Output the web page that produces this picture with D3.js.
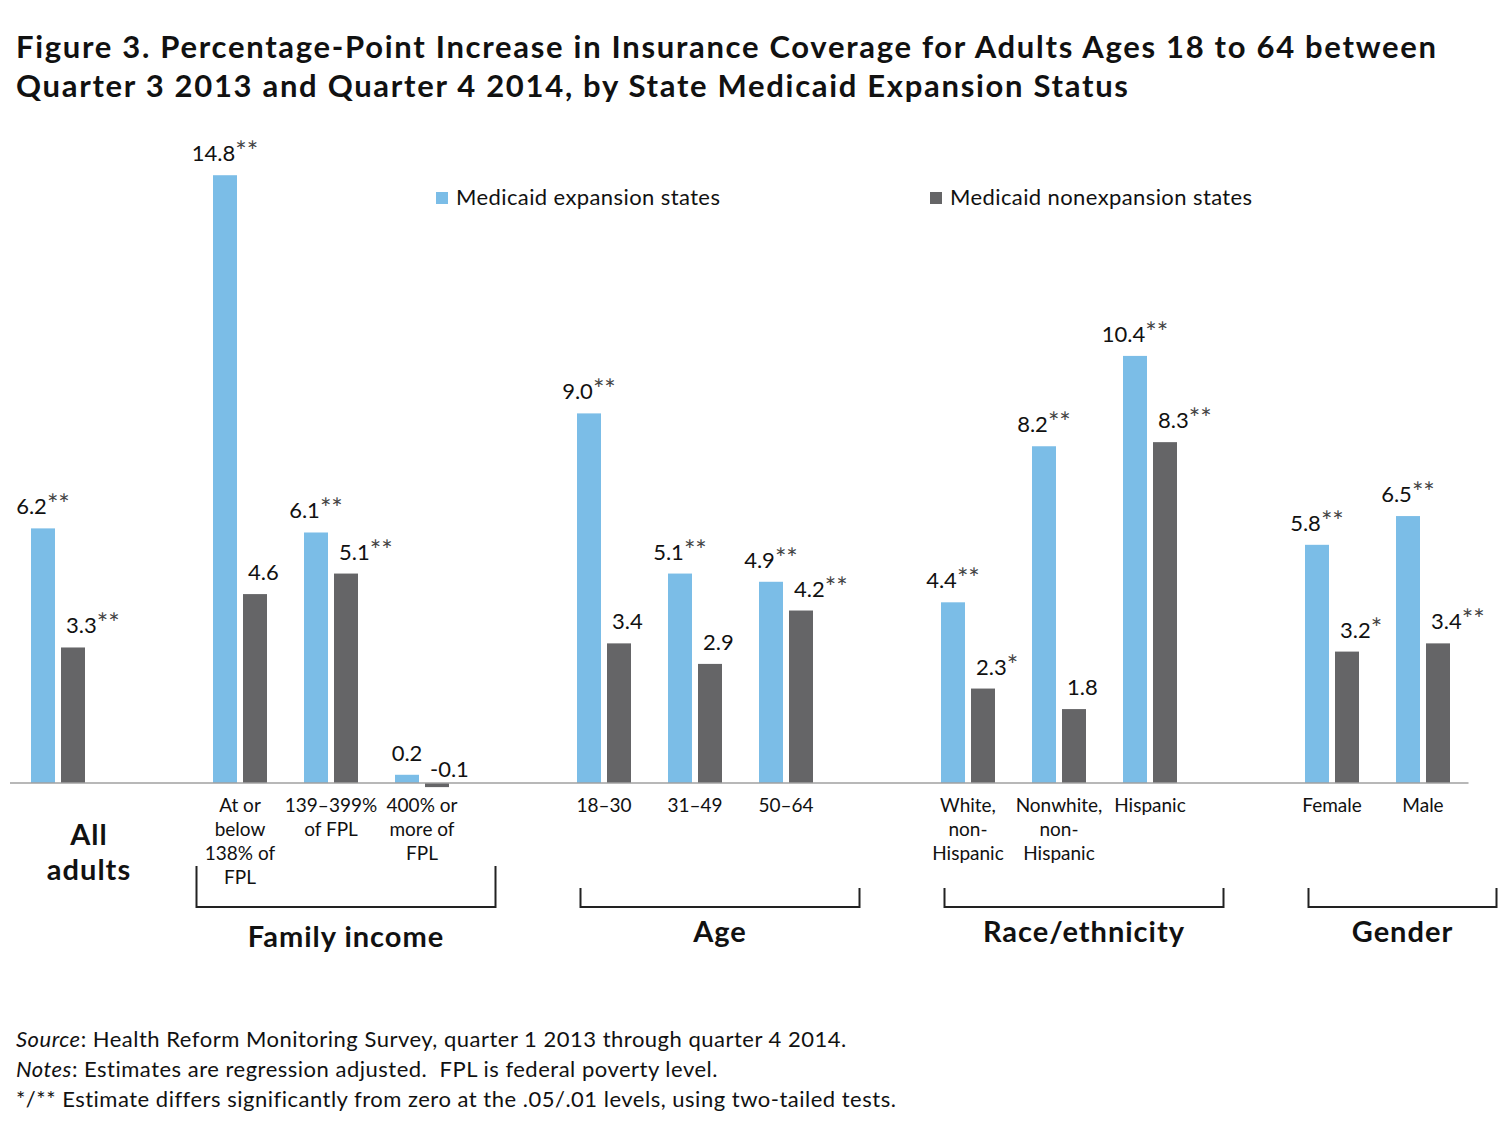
<!DOCTYPE html>
<html>
<head>
<meta charset="utf-8">
<script src="https://cdnjs.cloudflare.com/ajax/libs/d3/7.8.5/d3.min.js"></script>
<style>
  body { margin: 0; background: #fff; }
  text { font-family: Lato, "Open Sans", sans-serif; fill: #111; }
</style>
</head>
<body>
<svg id="chart" width="1500" height="1126"></svg>
<script>

// chart data
var categories = ["All adults", "At or below 138% of FPL", "139–399% of FPL", "400% or more of FPL",
                  "18–30", "31–49", "50–64",
                  "White, non-Hispanic", "Nonwhite, non-Hispanic", "Hispanic",
                  "Female", "Male"];
var categoryLines = [["All", "adults"], ["At or", "below", "138% of", "FPL"], ["139–399%", "of FPL"], ["400% or", "more of", "FPL"],
                     ["18–30"], ["31–49"], ["50–64"],
                     ["White,", "non-", "Hispanic"], ["Nonwhite,", "non-", "Hispanic"], ["Hispanic"],
                     ["Female"], ["Male"]];
var categoryGroup = ["All adults", "Family income", "Family income", "Family income",
                     "Age", "Age", "Age",
                     "Race/ethnicity", "Race/ethnicity", "Race/ethnicity",
                     "Gender", "Gender"];
var groups = ["All adults", "Family income", "Age", "Race/ethnicity", "Gender"];
var seriesNames = ["Medicaid expansion states", "Medicaid nonexpansion states"];
var expansion    = [6.2, 14.8, 6.1, 0.2, 9.0, 5.1, 4.9, 4.4, 8.2, 10.4, 5.8, 6.5];
var nonexpansion = [3.3, 4.6, 5.1, -0.1, 3.4, 2.9, 4.2, 2.3, 1.8, 8.3, 3.2, 3.4];
var expansionSig    = ["**", "**", "**", "", "**", "**", "**", "**", "**", "**", "**", "**"];
var nonexpansionSig = ["**", "", "**", "", "", "", "**", "*", "", "**", "*", "**"];
var titleLines = ["Figure 3. Percentage-Point Increase in Insurance Coverage for Adults Ages 18 to 64 between",
                  "Quarter 3 2013 and Quarter 4 2014, by State Medicaid Expansion Status"];

var colors = ["#7bbde7", "#656567"];

var svg = d3.select("#chart");

// title
svg.append("g").selectAll("text").data(titleLines).enter().append("text")
  .attr("x", 16)
  .attr("y", function(d, i) { return 58 + i * 39; })
  .style("font-size", "31px")
  .style("font-weight", "bold")
  .style("letter-spacing", "1.7px")
  .text(function(d) { return d; });

// x slots: one per category, with an empty slot between groups
var slots = [];
categories.forEach(function(c, i) {
  if (i > 0 && categoryGroup[i] !== categoryGroup[i - 1]) slots.push("gap" + i);
  slots.push(c);
});

var x = d3.scaleBand().domain(slots).range([12.5, 1468.5]).padding(0);
var xs = d3.scaleBand().domain(seriesNames)
  .range([x.bandwidth() / 2 - 27, x.bandwidth() / 2 + 27])
  .paddingInner(0.2).paddingOuter(0);
var y = d3.scaleLinear().domain([0, 15]).range([783, 167]);

var rows = categories.map(function(c, i) {
  return {cat: c, vals: [
    {s: seriesNames[0], v: expansion[i], sig: expansionSig[i]},
    {s: seriesNames[1], v: nonexpansion[i], sig: nonexpansionSig[i]}
  ]};
});

var cat = svg.append("g").selectAll(".cat").data(rows).enter().append("g")
  .attr("class", "cat")
  .attr("transform", function(d) { return "translate(" + x(d.cat) + ",0)"; });

cat.selectAll("rect").data(function(d) { return d.vals; }).enter().append("rect")
  .attr("x", function(d) { return xs(d.s); })
  .attr("y", function(d) { return y(Math.max(0, d.v)); })
  .attr("width", xs.bandwidth())
  .attr("height", function(d) { return Math.abs(y(d.v) - y(0)); })
  .attr("fill", function(d, i) { return colors[i]; });

// value labels: blue centred, gray left aligned next to the bar
var lab = cat.selectAll(".val").data(function(d) { return d.vals; }).enter().append("text")
  .attr("class", "val")
  .attr("x", function(d, i) { return i === 0 ? xs(d.s) + xs.bandwidth() / 2 : xs(d.s) + 5; })
  .attr("y", function(d) { return y(Math.max(0, d.v)) - (d.v < 0 ? 6 : 14); })
  .style("text-anchor", function(d, i) { return i === 0 ? "middle" : "start"; })
  .style("font-size", "22px");
lab.append("tspan").text(function(d) { return d.v.toFixed(1); });
lab.append("tspan").style("font-size", "27px").style("fill", "#444")
  .text(function(d) { return d.sig; });

// axis line
svg.append("line")
  .attr("x1", 10).attr("x2", x.range()[1])
  .attr("y1", y(0)).attr("y2", y(0))
  .attr("stroke", "#a0a0a0").attr("stroke-width", 1.5);

// category labels
var catLab = svg.append("g").selectAll("text").data(categories.slice(1)).enter().append("text")
  .attr("x", function(d) { return x(d) + x.bandwidth() / 2; })
  .attr("y", 812)
  .style("text-anchor", "middle")
  .style("font-size", "19px");
catLab.selectAll("tspan").data(function(d) { return categoryLines[categories.indexOf(d)]; }).enter().append("tspan")
  .attr("x", function() { var p = this.parentNode; return p.getAttribute("x"); })
  .attr("dy", function(d, i) { return i === 0 ? 0 : 24; })
  .text(function(d) { return d; });

// "All adults" label
svg.append("g").selectAll("text").data(categoryLines[0]).enter().append("text")
  .attr("x", x(categories[0]) + x.bandwidth() / 2 + 31)
  .attr("y", function(d, i) { return 845 + i * 35; })
  .style("text-anchor", "middle")
  .style("font-size", "29px")
  .style("font-weight", "bold")
  .style("letter-spacing", "1px")
  .text(function(d) { return d; });

// group brackets and titles
groups.slice(1).forEach(function(g) {
  var members = categories.filter(function(c, i) { return categoryGroup[i] === g; });
  var maxLines = d3.max(members, function(c) { return categoryLines[categories.indexOf(c)].length; });
  var x0 = x(members[0]) + 22,
      x1 = x(members[members.length - 1]) + x.bandwidth() + 28,
      top = maxLines > 3 ? 866 : 888,
      bot = 907;
  if (maxLines > 3) x0 -= 20;   // the income bracket sits a bit further left
  svg.append("path")
    .attr("d", "M" + x0 + "," + top + "V" + bot + "H" + x1 + "V" + top)
    .attr("fill", "none").attr("stroke", "#222").attr("stroke-width", 2);
  svg.append("text")
    .attr("x", (x0 + x1) / 2)
    .attr("y", maxLines > 3 ? 947 : 942)
    .style("text-anchor", "middle")
    .style("font-size", "29px")
    .style("font-weight", "bold")
    .style("letter-spacing", "1px")
    .text(g);
});

// legend
var leg = svg.append("g").selectAll("g").data(seriesNames).enter().append("g")
  .attr("transform", function(d, i) { return "translate(" + (436 + i * 494) + ",192)"; });
leg.append("rect").attr("width", 12).attr("height", 12)
  .attr("fill", function(d, i) { return colors[i]; });
leg.append("text").attr("x", 20).attr("y", 13)
  .style("font-size", "22px")
  .style("letter-spacing", "0.4px")
  .text(function(d) { return d; });

// notes
var notes = svg.append("g").style("font-size", "22px").style("letter-spacing", "0.5px");
var n1 = notes.append("text").attr("x", 16).attr("y", 1047);
n1.append("tspan").style("font-style", "italic").text("Source");
n1.append("tspan").text(": Health Reform Monitoring Survey, quarter 1 2013 through quarter 4 2014.");
var n2 = notes.append("text").attr("x", 16).attr("y", 1077);
n2.append("tspan").style("font-style", "italic").text("Notes");
n2.append("tspan").text(": Estimates are regression adjusted.  FPL is federal poverty level.").attr("xml:space", "preserve");
notes.append("text").attr("x", 16).attr("y", 1107)
  .text("*/** Estimate differs significantly from zero at the .05/.01 levels, using two-tailed tests.");

</script>
</body>
</html>
